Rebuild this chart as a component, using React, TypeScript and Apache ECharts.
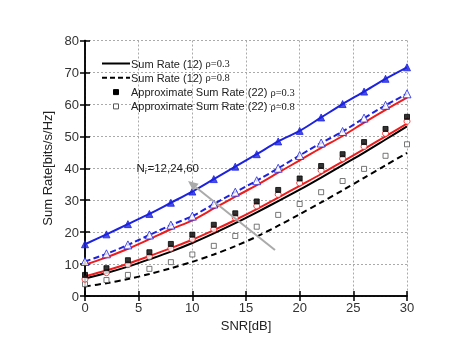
import React, { useEffect, useRef } from "react";
import * as echarts from "echarts";

const snr = [0, 2, 4, 6, 8, 10, 12, 14, 16, 18, 20, 22, 24, 26, 28, 30];

// Blue group (largest Nr)
const blueSolid = [16.2, 19.3, 22.5, 25.7, 29.2, 32.7, 36.6, 40.5, 44.4, 48.4, 51.7, 55.9, 60.1, 64.0, 68.0, 71.6];
const blueDashed = [10.8, 13.2, 16.0, 19.1, 22.2, 25.0, 28.8, 32.5, 36.1, 40.0, 44.0, 47.9, 51.5, 55.7, 59.7, 63.3];
// Red curves
const redUpper = [9.8, 12.1, 14.8, 17.8, 20.9, 23.7, 27.4, 31.1, 34.7, 38.6, 42.5, 46.4, 50.1, 54.3, 58.3, 62.1];
const redLower = [6.2, 8.0, 10.1, 12.5, 15.0, 17.6, 20.6, 23.8, 27.2, 30.8, 34.5, 38.2, 42.1, 46.0, 50.0, 54.0];
const redCircles = [5.3, 7.3, 9.8, 12.3, 14.9, 17.8, 20.9, 24.5, 28.2, 31.8, 35.4, 39.3, 43.0, 46.8, 50.9, 54.7];
// Black curves
const blackSolid = [5.5, 7.2, 9.2, 11.5, 13.9, 16.6, 19.6, 22.8, 26.2, 29.7, 33.3, 37.1, 41.0, 44.9, 49.0, 53.1];
const blackDashed = [3.0, 4.0, 5.3, 6.9, 8.7, 10.7, 13.0, 15.6, 18.6, 22.0, 25.6, 29.3, 33.1, 37.0, 40.9, 44.8];
const approxRho03 = [6.6, 8.7, 11.2, 13.7, 16.3, 19.2, 22.3, 25.9, 29.6, 33.2, 36.8, 40.7, 44.4, 48.2, 52.3, 56.1];
const approxRho08 = [3.7, 5.0, 6.6, 8.5, 10.6, 13.0, 15.7, 18.8, 21.7, 25.4, 28.8, 32.5, 36.0, 39.8, 43.9, 47.5];

const xTicks = [0, 30, 5];
const yTicks = [0, 80, 10];

const legendItems = [
  { main: "Sum Rate (12) ", rho: "ρ=0.3" },
  { main: "Sum Rate (12) ", rho: "ρ=0.8" },
  { main: "Approximate Sum Rate (22) ", rho: "ρ=0.3" },
  { main: "Approximate Sum Rate (22) ", rho: "ρ=0.8" },
];

const arrowTail = [17.7, 14.4];
const arrowHead = [9.6, 36.0];
const nrLabelPos = [4.8, 40.1];

const BLUE = "#1c22e0";
const RED = "#ee1c1c";
const GRAY = "#aaaaaa";
const SANS = "Liberation Sans, Arial, sans-serif";
const SERIF = "Liberation Serif, Times New Roman, serif";

const pts = (arr: number[]) => snr.map((x, i) => [x, arr[i]]);

export default function App() {
  const ref = useRef<HTMLDivElement>(null);
  useEffect(() => {
    if (!ref.current) return;
    const chart = echarts.init(ref.current, null, { renderer: "svg" });
    const axisLine = { show: true, lineStyle: { color: "#000", width: 1.5 } };
    const tick = { show: true, inside: true, length: 5, lineStyle: { color: "#000", width: 1.5 } };
    const split = { show: true, lineStyle: { color: GRAY, type: [2, 2], width: 1 } };
    const lbl = { color: "#333", fontFamily: SANS, fontSize: 13 };
    const lineSeries = (data: number[], color: string, type: any, z: number) => ({
      type: "line",
      data: pts(data),
      showSymbol: false,
      symbol: "none",
      smooth: 0.3,
      lineStyle: { color, width: 2, type },
      z,
      silent: true,
    });
    const markSeries = (data: number[], symbol: string, size: number, color: string, fill: string, z: number) => ({
      type: "scatter",
      data: pts(data),
      symbol,
      symbolSize: size,
      itemStyle: { color: fill, borderColor: color, borderWidth: 1 },
      z,
      silent: true,
    });
    const option: any = {
      animation: false,
      grid: { left: 85, right: 67, top: 40.5, bottom: 59 },
      xAxis: [
        {
          type: "value", min: xTicks[0], max: xTicks[1], interval: xTicks[2], position: "bottom",
          name: "SNR[dB]", nameLocation: "middle", nameGap: 20,
          nameTextStyle: { color: "#222", fontFamily: SANS, fontSize: 13 },
          axisLine, axisTick: tick, splitLine: split,
          axisLabel: { ...lbl, margin: 5 },
        },
        {
          type: "value", min: xTicks[0], max: xTicks[1], interval: xTicks[2], position: "top",
          axisLine, axisTick: tick, splitLine: { show: false }, axisLabel: { show: false },
        },
      ],
      yAxis: [
        {
          type: "value", min: yTicks[0], max: yTicks[1], interval: yTicks[2], position: "left",
          name: "Sum Rate[bits/s/Hz]", nameLocation: "middle", nameGap: 29,
          nameTextStyle: { color: "#222", fontFamily: SANS, fontSize: 13 },
          axisLine, axisTick: tick, splitLine: split,
          axisLabel: { ...lbl, margin: 6 },
        },
        {
          type: "value", min: yTicks[0], max: yTicks[1], interval: yTicks[2], position: "right",
          axisLine, axisTick: tick, splitLine: { show: false }, axisLabel: { show: false },
        },
      ],
      series: [
        lineSeries(blackDashed, "#000", [6, 4], 2),
        lineSeries(blackSolid, "#000", "solid", 2),
        lineSeries(redLower, RED, "solid", 3),
        lineSeries(redUpper, RED, "solid", 3),
        lineSeries(blueDashed, BLUE, [6, 3], 4),
        lineSeries(blueSolid, BLUE, "solid", 4),
        markSeries(approxRho08, "rect", 5, "#555", "#fff", 5),
        markSeries(redCircles, "circle", 6, RED, "#fff", 5),
        markSeries(approxRho03, "rect", 5, "#000", "#000", 6),
        markSeries(blueDashed, "triangle", 8, BLUE, "#fff", 6),
        markSeries(blueSolid, "triangle", 7, BLUE, BLUE, 6),
      ],
    };
    chart.setOption(option);

    const tail = chart.convertToPixel({ seriesIndex: 0 }, arrowTail) as number[];
    const head = chart.convertToPixel({ seriesIndex: 0 }, arrowHead) as number[];
    const nrPos = chart.convertToPixel({ seriesIndex: 0 }, nrLabelPos) as number[];
    const dx = head[0] - tail[0];
    const dy = head[1] - tail[1];
    const len = Math.sqrt(dx * dx + dy * dy);
    const ux = dx / len, uy = dy / len;
    const hl = 10, hw = 4.5;
    const bx = head[0] - ux * hl, by = head[1] - uy * hl;

    const legendBaseY = 63.5;
    const legendStep = 14.3;
    const legendGraphics: any[] = [];
    legendItems.forEach((it, i) => {
      const y = legendBaseY + i * legendStep;
      if (i === 0 || i === 1) {
        legendGraphics.push({
          type: "line",
          shape: { x1: 102, y1: y, x2: 130, y2: y },
          style: { stroke: "#000", lineWidth: 2, lineDash: i === 1 ? [5, 3] : null },
        });
      } else {
        legendGraphics.push({
          type: "rect",
          shape: { x: 113.5, y: y - 2.5, width: 5, height: 5 },
          style: { fill: i === 2 ? "#000" : "#fff", stroke: i === 2 ? "#000" : "#555", lineWidth: 1 },
        });
      }
      legendGraphics.push({
        type: "text",
        x: 131,
        y,
        style: {
          text: `{a|${it.main}}{b|${it.rho}}`,
          verticalAlign: "middle",
          rich: {
            a: { fontFamily: SANS, fontSize: 11, fill: "#222" },
            b: { fontFamily: SERIF, fontSize: 10.5, fill: "#222" },
          },
        },
      });
    });

    chart.setOption({
      graphic: [
        ...legendGraphics,
        {
          type: "line",
          shape: { x1: tail[0], y1: tail[1], x2: bx, y2: by },
          style: { stroke: GRAY, lineWidth: 2 },
          z: 20,
        },
        {
          type: "polygon",
          shape: {
            points: [
              [head[0], head[1]],
              [bx - uy * hw, by + ux * hw],
              [bx + uy * hw, by - ux * hw],
            ],
          },
          style: { fill: GRAY },
          z: 20,
        },
        {
          type: "text",
          x: nrPos[0],
          y: nrPos[1],
          style: {
            text: "{n|N}{s|r}{n|=12,24,60}",
            verticalAlign: "middle",
            rich: {
              n: { fontFamily: SANS, fontSize: 11.5, fill: "#222" },
              s: { fontFamily: SANS, fontSize: 8, fill: "#222", padding: [8, 0, 0, 0] },
            },
          },
          z: 20,
        },
      ],
    });
    return () => chart.dispose();
  }, []);
  return <div ref={ref} style={{ position: "fixed", left: 0, top: 0, width: 474, height: 355 }} />;
}
